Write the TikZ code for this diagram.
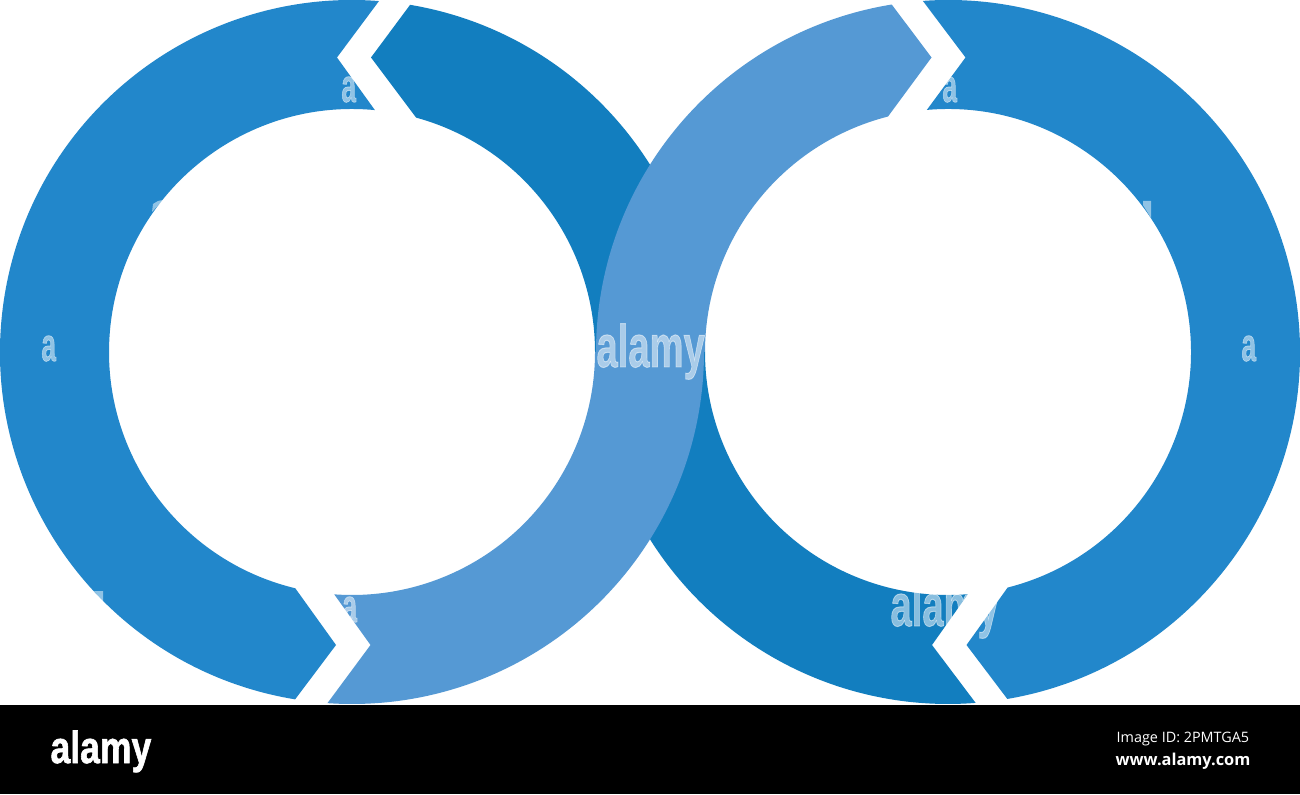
\documentclass[tikz,border=0pt]{standalone}
\usepackage{fontspec}
\setmainfont{Open Sans}
\newfontfamily\logofont{Liberation Sans}[BoldFont=Liberation Sans Bold,BoldFeatures={FakeBold=1.6}]
\usetikzlibrary{calc}
\definecolor{ringmid}{HTML}{2287CB}
\definecolor{ringdark}{HTML}{127EBF}
\definecolor{ringlight}{HTML}{5599D4}
\tikzset{
	ring/.style={draw=none},
	markbig/.style={anchor=base west, inner sep=0pt, text=white, text opacity=0.5, xscale=0.64, transform shape, font=\logofont\bfseries\fontsize{17}{17}\selectfont},
	marksmall/.style={anchor=base west, inner sep=0pt, text=white, text opacity=0.5, xscale=0.56, transform shape, font=\logofont\bfseries\fontsize{13.4}{13.4}\selectfont},
	sliver/.style={fill=white, opacity=0.5, draw=none},
}

\begin{document}
\begin{tikzpicture}
	\useasboundingbox (0, 0) rectangle (13, 7.94);
	\fill[white] (0, 0) rectangle (13, 7.94);
	\coordinate (leftc) at (3.52, 4.42);
	\coordinate (rightc) at (9.48, 4.42);
	
	%%%%% left ring %%%%%
	\fill[ring, ringmid] ($(leftc)+(85.6:3.52)$) -- (3.37, 7.365) -- ($(leftc)+(84.6:2.43)$)
		arc (84.6:256.5:2.43) -- (3.36, 1.49) -- ($(leftc)+(260.7:3.52)$)
		arc (260.7:85.6:3.52) -- cycle;
	
	%%%%% right ring %%%%%
	\fill[ring, ringmid] ($(rightc)+(94.1:3.52)$) -- (9.655, 7.365) -- ($(rightc)+(95:2.43)$)
		arc (95:-75.8:2.43) -- (9.665, 1.49) -- ($(rightc)+(-80.3:3.52)$)
		arc (-80.3:94.1:3.52) -- cycle;
	
	%%%%% dark band, goes under the light one %%%%%
	\fill[ring, ringdark] ($(leftc)+(80.5:3.52)$) arc (80.5:0:3.52)
		-- ($(rightc)+(180:2.43)$) arc (180:274.7:2.43) -- (9.32, 1.49)
		-- ($(rightc)+(274.5:3.52)$) arc (274.5:180:3.52)
		-- ($(leftc)+(0:2.43)$) arc (0:74.7:2.43) -- (3.71, 7.365) -- cycle;
	
	%%%%% light band %%%%%
	\fill[ring, ringlight] ($(rightc)+(99.2:3.52)$) -- (9.315, 7.365) -- ($(rightc)+(104.3:2.43)$)
		arc (104.3:180:2.43) -- ($(leftc)+(0:3.52)$) arc (0:-94:3.52) -- (3.705, 1.49)
		-- ($(leftc)+(-94.2:2.43)$) arc (-94.2:0:2.43)
		-- ($(rightc)+(180:3.52)$) arc (180:99.2:3.52) -- cycle;
	
	%%%%% marks on the rings %%%%%
	\node[markbig] (markcentre) at (5.96, 4.27) {alamy};
	\node[markbig] (marklower) at (8.90, 1.68) {alamy};
	\node[marksmall] (marktopleft) at (3.41, 6.92) {a};
	\node[marksmall] (marktopright) at (9.42, 6.92) {a};
	\node[marksmall] (markbottomleft) at (3.42, 1.72) {a};
	\node[marksmall] (markfarleft) at (0.41, 4.33) {a};
	\node[marksmall] (markfarright) at (12.41, 4.33) {a};
	\fill[sliver] (1.52, 5.82) -- (1.53, 5.90) -- (1.58, 5.93) -- (1.63, 5.94) -- cycle;
	\fill[sliver] (0.94, 2.03) -- (1.03, 2.03) -- (1.03, 1.92) -- cycle;
	\fill[sliver] (11.43, 5.93) -- (11.51, 5.93) -- (11.51, 5.76) -- (11.43, 5.89) -- cycle;
	
	%%%%% bottom bar %%%%%
	\fill[black] (0, 0) rectangle (13, 0.89);
	\node[anchor=base west, inner sep=0pt, text=white, xscale=0.79, transform shape, font=\logofont\bfseries\fontsize{12.8}{12.8}\selectfont] (barlogo) at (0.50, 0.31) {alamy};
	\node[anchor=base west, inner sep=0pt, text=white, font=\fontsize{4.09}{4.09}\selectfont] (barid) at (11.16, 0.52) {Image ID: 2PMTGA5};
	\node[anchor=base west, inner sep=0pt, text=white, font=\bfseries\fontsize{4.65}{4.65}\selectfont] (barurl) at (11.15, 0.29) {www.alamy.com};
\end{tikzpicture}
\end{document}
